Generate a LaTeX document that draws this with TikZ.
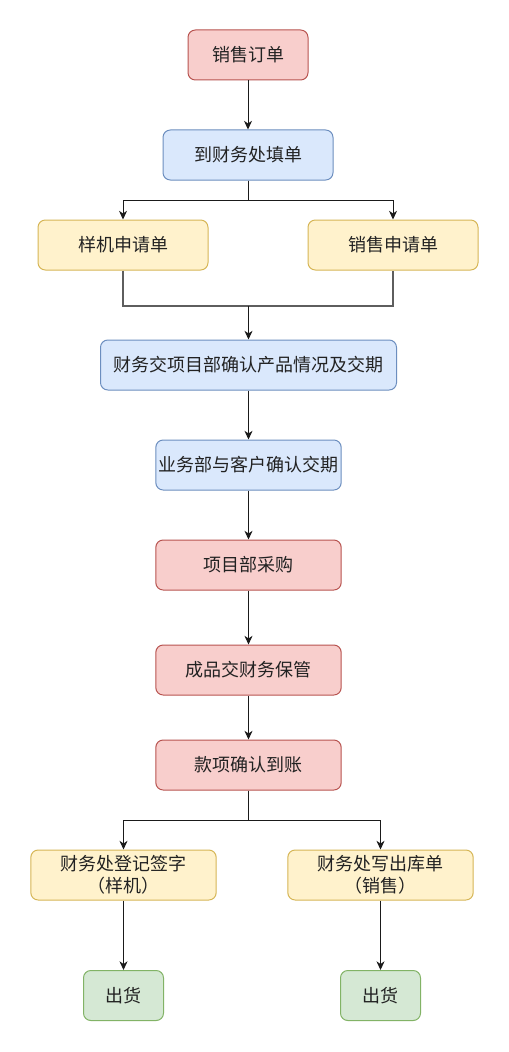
\documentclass[tikz,border=0pt]{standalone}
\usepackage{fontspec}
\setmainfont{Noto Sans CJK SC}
\usetikzlibrary{arrows.meta,calc}
\definecolor{redF}{HTML}{F8CECC}\definecolor{redD}{HTML}{B85450}
\definecolor{bluF}{HTML}{DAE8FC}\definecolor{bluD}{HTML}{6C8EBF}
\definecolor{yelF}{HTML}{FFF2CC}\definecolor{yelD}{HTML}{D6B656}
\definecolor{grnF}{HTML}{D5E8D4}\definecolor{grnD}{HTML}{82B366}
\definecolor{txt}{HTML}{222222}
\definecolor{lnk}{HTML}{1A1A1A}
\definecolor{gry}{HTML}{5E5E5E}
\begin{document}
\begin{tikzpicture}[x=0.75pt,y=-0.75pt,
  box/.style={rectangle,rounded corners=5.5pt,inner sep=0pt,line width=0.75pt,
    minimum height=37.5pt,align=center,text=txt,
    font=\fontsize{13.5pt}{16.5pt}\selectfont},
  redbox/.style={box,fill=redF,draw=redD},
  blubox/.style={box,fill=bluF,draw=bluD},
  yelbox/.style={box,fill=yelF,draw=yelD},
  grnbox/.style={box,fill=grnF,draw=grnD},
  arr/.style={draw=lnk,line width=0.75pt,-{Stealth[length=6.5pt,width=6pt,inset=2pt]}},
  grayline/.style={draw=gry,line width=0.8pt}]
\useasboundingbox[fill=white] (0,0) rectangle (509,1052);
\node[redbox,minimum width=90pt] (a) at (248,55) {销售订单};
\node[blubox,minimum width=127.5pt] (b) at (248,155) {到财务处填单};
\node[yelbox,minimum width=127.5pt] (c) at (123,245) {样机申请单};
\node[yelbox,minimum width=127.5pt] (d) at (393,245) {销售申请单};
\node[blubox,minimum width=222pt] (e) at (248.5,365) {财务交项目部确认产品情况及交期};
\node[blubox,minimum width=139pt] (f) at (248.5,465) {业务部与客户确认交期};
\node[redbox,minimum width=139pt] (g) at (248.5,565) {项目部采购};
\node[redbox,minimum width=139pt] (h) at (248.5,670) {成品交财务保管};
\node[redbox,minimum width=139pt] (i0) at (248.5,765) {款项确认到账};
\node[yelbox,minimum width=139pt] (i) at (123.5,875) {财务处登记签字\\（样机）};
\node[yelbox,minimum width=139pt] (j) at (380.5,875) {财务处写出库单\\（销售）};
\node[grnbox,minimum width=60pt] (k) at (123.5,995.5) {出货};
\node[grnbox,minimum width=60pt] (l) at (380.5,995.5) {出货};
\coordinate (m) at ($(c.south)+(0,35.5)$);
\draw[arr] (a) -- (b);
\draw[arr] (b.south) -- ++(0,20) -| (c.north);
\draw[arr] (b.south) -- ++(0,20) -| (d.north);
\draw[grayline] (c.south) -- (m) -| (d.south);
\draw[arr] (m -| e.north) -- (e.north);
\draw[arr] (e) -- (f);
\draw[arr] (f) -- (g);
\draw[arr] (g) -- (h);
\draw[arr] (h) -- (i0);
\draw[arr] (i0.south) -- ++(0,30) -| (i.north);
\draw[arr] (i0.south) -- ++(0,30) -| (j.north);
\draw[arr] (i) -- (k);
\draw[arr] (j) -- (l);
\end{tikzpicture}
\end{document}
